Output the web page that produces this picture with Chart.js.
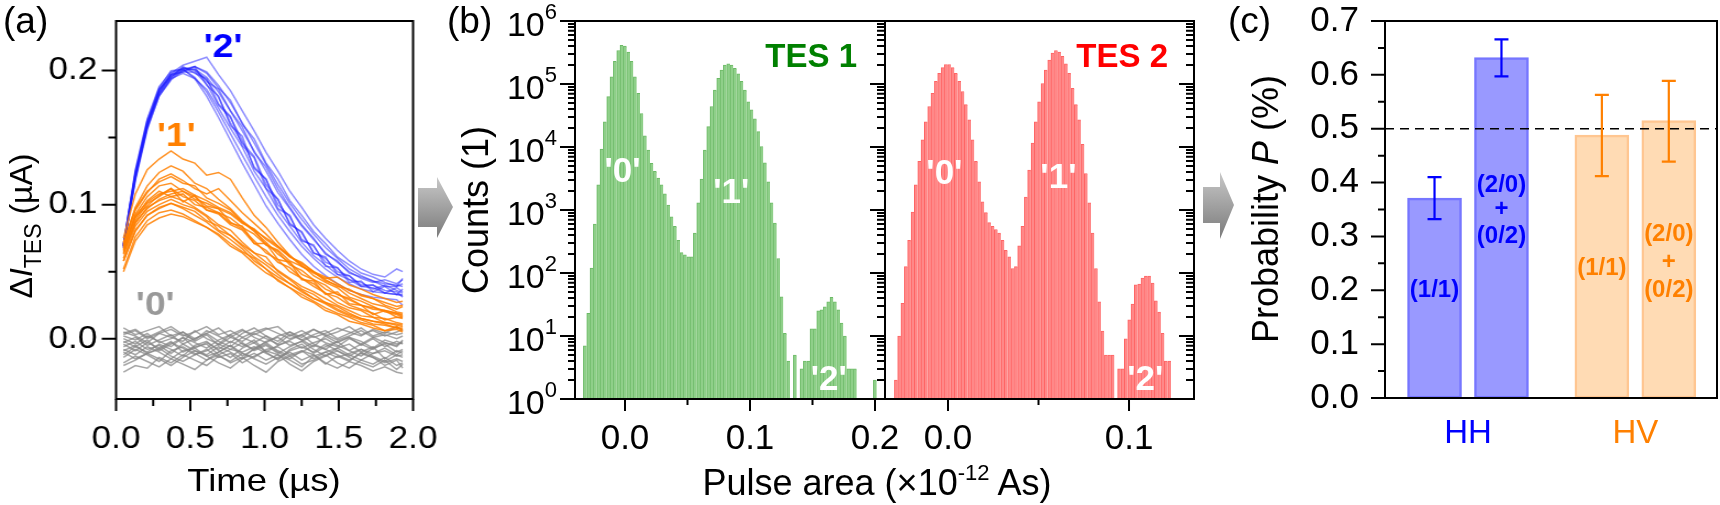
<!DOCTYPE html>
<html><head><meta charset="utf-8">
<script src="https://cdn.jsdelivr.net/npm/chart.js@4.4.1/dist/chart.umd.min.js"></script>
<style>
html,body{margin:0;padding:0;background:#fff}
body{position:relative;width:1720px;height:505px;overflow:hidden;font-family:"Liberation Sans",Arial,Helvetica,sans-serif}
canvas{position:absolute}
.t{position:absolute;line-height:1;white-space:nowrap;color:#000}
.rot{transform:translate(-50%,-50%) rotate(-90deg)}
</style></head><body>
<canvas id="ca" width="400" height="505" style="left:0;top:0;transform:scaleX(1.1);transform-origin:0 0"></canvas>
<canvas id="cb1" width="480" height="505" style="left:440px;top:0"></canvas>
<canvas id="cb2" width="360" height="505" style="left:860px;top:0"></canvas>
<canvas id="cc" width="430" height="525" style="left:1290px;top:-20px"></canvas>
<svg width="1720" height="505" style="position:absolute;left:0;top:0;pointer-events:none">
<defs><linearGradient id="ag" x1="0" y1="0" x2="0" y2="1"><stop offset="0" stop-color="#c8c8c8"/><stop offset="1" stop-color="#7a7a7a"/></linearGradient></defs>
<polygon points="418,188 437,188 437,177 453,207 437,238 437,227 418,227" fill="url(#ag)"/>
<polygon points="1203,187 1220,187 1220,172 1234,205 1220,239 1220,223 1203,223" fill="url(#ag)"/>
</svg>
<div class="t" style="left:3px;top:2px;font-size:37px">(a)</div>
<div class="t" style="left:447px;top:2px;font-size:37px">(b)</div>
<div class="t" style="left:1228px;top:2px;font-size:37px">(c)</div>
<div class="t" style="left:264px;top:464px;font-size:32px;transform:translateX(-50%) scaleX(1.14)">Time (µs)</div>
<div class="t" style="left:877px;top:465px;font-size:36px;transform:translateX(-50%)">Pulse area (×10<span style="font-size:22px;position:relative;top:-15px">-12</span> As)</div>
<div class="t rot" style="left:476px;top:210px;font-size:36px">Counts (1)</div>
<div class="t rot" style="left:1266px;top:209px;font-size:36px">Probability <i>P</i> (%)</div>
<div class="t rot" style="left:21px;top:226px;font-size:32px">Δ<i>I</i><span style="font-size:23px;position:relative;top:9px">TES</span> (µA)</div>
<div class="t" style="left:857px;top:39px;font-size:33px;font-weight:bold;color:#008000;transform:translateX(-100%)">TES 1</div>
<div class="t" style="left:1168px;top:39px;font-size:33px;font-weight:bold;color:#ff0000;transform:translateX(-100%)">TES 2</div>
<script>
// ================= DATA =================
// (a) TES current traces, time in µs, ΔI in µA
const aTime = [0.05,0.13,0.21,0.29,0.37,0.45,0.53,0.61,0.69,0.77,0.85,0.93,1.01,1.09,1.17,1.25,1.33,1.41,1.49,1.57,1.65,1.73,1.81,1.89,1.93];
const aBlue = [
[0.070,0.126,0.164,0.188,0.199,0.201,0.195,0.184,0.169,0.153,0.137,0.121,0.106,0.092,0.080,0.069,0.060,0.052,0.046,0.041,0.037,0.035,0.034,0.033,0.032],
[0.068,0.118,0.156,0.181,0.194,0.201,0.203,0.199,0.189,0.176,0.161,0.146,0.130,0.115,0.101,0.089,0.078,0.068,0.060,0.052,0.047,0.043,0.041,0.040,0.039],
[0.071,0.124,0.161,0.186,0.195,0.203,0.198,0.194,0.175,0.166,0.144,0.135,0.112,0.104,0.085,0.080,0.064,0.061,0.048,0.047,0.039,0.040,0.034,0.038,0.035],
[0.069,0.121,0.158,0.183,0.197,0.199,0.203,0.189,0.181,0.159,0.151,0.127,0.119,0.097,0.092,0.073,0.070,0.054,0.053,0.042,0.043,0.035,0.039,0.033,0.037],
[0.068,0.120,0.159,0.185,0.198,0.204,0.207,0.210,0.197,0.185,0.170,0.155,0.139,0.125,0.110,0.098,0.085,0.075,0.066,0.058,0.052,0.048,0.046,0.052,0.050],
[0.070,0.123,0.162,0.182,0.194,0.198,0.194,0.181,0.165,0.148,0.131,0.115,0.099,0.086,0.074,0.063,0.054,0.047,0.041,0.036,0.033,0.031,0.030,0.029,0.025],
[0.069,0.121,0.160,0.186,0.197,0.202,0.201,0.195,0.184,0.170,0.155,0.140,0.125,0.109,0.097,0.084,0.074,0.064,0.057,0.050,0.045,0.042,0.044,0.041,0.044],
[0.070,0.125,0.163,0.187,0.200,0.201,0.194,0.186,0.172,0.157,0.143,0.125,0.112,0.096,0.084,0.072,0.062,0.055,0.048,0.044,0.039,0.038,0.034,0.033,0.033],
[0.068,0.119,0.157,0.181,0.193,0.200,0.203,0.198,0.187,0.178,0.160,0.149,0.131,0.119,0.103,0.092,0.080,0.071,0.061,0.055,0.049,0.046,0.042,0.039,0.041],
[0.069,0.122,0.161,0.184,0.196,0.199,0.199,0.190,0.174,0.165,0.148,0.128,0.119,0.100,0.091,0.074,0.069,0.057,0.053,0.044,0.042,0.037,0.040,0.036,0.034],
[0.070,0.123,0.159,0.183,0.195,0.202,0.200,0.193,0.180,0.161,0.146,0.136,0.115,0.104,0.086,0.079,0.064,0.060,0.050,0.047,0.040,0.040,0.036,0.035,0.031],
[0.069,0.120,0.158,0.185,0.197,0.200,0.201,0.192,0.186,0.170,0.158,0.139,0.128,0.112,0.098,0.085,0.075,0.063,0.058,0.049,0.046,0.043,0.039,0.039,0.045]
];
const aOrange = [
[0.075,0.108,0.126,0.134,0.140,0.134,0.131,0.122,0.124,0.119,0.105,0.092,0.083,0.072,0.062,0.054,0.050,0.043,0.040,0.034,0.030,0.026,0.024,0.020,0.019],
[0.070,0.098,0.114,0.124,0.129,0.125,0.116,0.112,0.104,0.097,0.088,0.081,0.070,0.065,0.055,0.051,0.044,0.040,0.033,0.030,0.025,0.022,0.021,0.019,0.018],
[0.065,0.088,0.101,0.106,0.112,0.106,0.103,0.096,0.093,0.085,0.081,0.071,0.066,0.057,0.053,0.045,0.041,0.034,0.031,0.025,0.022,0.019,0.014,0.016,0.015],
[0.058,0.081,0.092,0.098,0.101,0.097,0.092,0.087,0.080,0.074,0.067,0.058,0.052,0.043,0.038,0.031,0.027,0.021,0.018,0.013,0.011,0.008,0.006,0.007,0.005],
[0.068,0.090,0.103,0.110,0.106,0.108,0.100,0.098,0.094,0.090,0.083,0.078,0.070,0.066,0.058,0.054,0.049,0.045,0.046,0.040,0.037,0.033,0.030,0.027,0.028],
[0.052,0.076,0.088,0.094,0.096,0.093,0.088,0.083,0.077,0.069,0.064,0.056,0.049,0.044,0.038,0.033,0.028,0.023,0.019,0.016,0.012,0.010,0.006,0.009,0.006],
[0.072,0.097,0.110,0.117,0.121,0.116,0.114,0.105,0.101,0.096,0.087,0.080,0.072,0.063,0.057,0.048,0.044,0.037,0.033,0.029,0.025,0.023,0.021,0.019,0.017],
[0.063,0.086,0.098,0.103,0.106,0.103,0.098,0.092,0.085,0.081,0.072,0.064,0.061,0.050,0.044,0.037,0.033,0.027,0.024,0.019,0.015,0.013,0.012,0.010,0.009],
[0.050,0.073,0.085,0.090,0.093,0.091,0.087,0.083,0.078,0.071,0.065,0.060,0.052,0.046,0.041,0.035,0.030,0.027,0.022,0.018,0.015,0.013,0.011,0.008,0.008],
[0.067,0.091,0.099,0.107,0.112,0.102,0.107,0.096,0.094,0.086,0.084,0.071,0.071,0.059,0.057,0.044,0.043,0.033,0.035,0.026,0.025,0.018,0.021,0.016,0.016],
[0.064,0.087,0.097,0.104,0.108,0.110,0.104,0.101,0.097,0.093,0.086,0.082,0.074,0.068,0.061,0.057,0.050,0.044,0.039,0.037,0.032,0.030,0.025,0.022,0.024],
[0.069,0.093,0.106,0.114,0.116,0.110,0.106,0.099,0.097,0.087,0.082,0.073,0.064,0.059,0.050,0.045,0.039,0.034,0.027,0.023,0.021,0.016,0.015,0.012,0.011],
[0.058,0.080,0.092,0.097,0.101,0.098,0.095,0.088,0.084,0.077,0.070,0.064,0.057,0.051,0.045,0.039,0.035,0.030,0.025,0.021,0.017,0.016,0.012,0.011,0.010],
[0.066,0.092,0.102,0.108,0.110,0.112,0.107,0.103,0.098,0.094,0.087,0.081,0.075,0.069,0.061,0.056,0.050,0.046,0.041,0.036,0.033,0.030,0.027,0.024,0.025],
[0.071,0.096,0.109,0.119,0.123,0.118,0.112,0.108,0.112,0.103,0.094,0.086,0.078,0.069,0.062,0.055,0.047,0.042,0.038,0.031,0.028,0.024,0.020,0.018,0.016],
[0.060,0.084,0.095,0.100,0.104,0.100,0.097,0.091,0.081,0.077,0.069,0.061,0.055,0.048,0.041,0.036,0.030,0.026,0.021,0.017,0.014,0.011,0.010,0.008,0.007]
];
const aGray = [
[0.005,0.002,-0.003,0.004,0.001,-0.002,0.006,0.000,-0.004,0.003,0.007,0.001,-0.003,0.002,0.005,-0.001,0.003,0.006,0.000,0.004,0.008,0.002,0.005,0.003,0.004],
[-0.008,-0.012,-0.006,-0.010,-0.015,-0.009,-0.007,-0.013,-0.010,-0.005,-0.011,-0.014,-0.008,-0.006,-0.012,-0.009,-0.015,-0.010,-0.007,-0.012,-0.016,-0.011,-0.009,-0.013,-0.012],
[-0.025,-0.020,-0.022,-0.014,-0.018,-0.012,-0.016,-0.020,-0.013,-0.017,-0.011,-0.015,-0.019,-0.014,-0.010,-0.016,-0.012,-0.018,-0.022,-0.017,-0.020,-0.024,-0.021,-0.025,-0.026],
[0.000,-0.004,0.002,-0.002,-0.006,0.001,-0.003,-0.007,-0.001,0.003,-0.004,-0.008,-0.002,0.001,-0.005,-0.002,0.002,-0.003,-0.006,0.000,-0.004,0.001,-0.003,-0.005,-0.002],
[-0.012,-0.006,-0.010,-0.004,-0.008,-0.013,-0.005,-0.002,-0.009,-0.014,-0.007,-0.003,-0.010,-0.016,-0.008,-0.004,-0.011,-0.006,-0.002,-0.009,-0.013,-0.007,-0.004,-0.010,-0.008],
[0.008,0.003,0.006,0.009,0.002,0.005,0.000,0.004,0.008,0.001,0.006,0.003,0.007,0.009,0.002,0.006,0.001,0.004,0.008,0.005,0.002,0.007,0.004,0.009,0.006],
[-0.004,-0.009,-0.003,-0.007,-0.002,-0.010,-0.006,-0.004,-0.012,-0.008,-0.003,-0.009,-0.005,-0.011,-0.006,-0.002,-0.008,-0.013,-0.007,-0.004,-0.010,-0.006,-0.015,-0.009,-0.011],
[-0.018,-0.013,-0.017,-0.021,-0.015,-0.019,-0.023,-0.016,-0.012,-0.018,-0.014,-0.020,-0.025,-0.017,-0.013,-0.019,-0.016,-0.012,-0.018,-0.022,-0.016,-0.019,-0.014,-0.020,-0.018],
[0.002,-0.001,0.004,-0.003,0.000,0.005,-0.002,0.003,-0.005,0.001,-0.002,0.004,0.000,-0.004,0.003,-0.001,-0.006,0.002,-0.003,0.001,-0.002,-0.007,-0.001,-0.004,-0.003],
[-0.006,-0.002,-0.008,-0.005,-0.011,-0.004,-0.009,-0.012,-0.006,-0.010,-0.015,-0.007,-0.003,-0.009,-0.013,-0.010,-0.005,-0.008,-0.012,-0.016,-0.011,-0.014,-0.018,-0.015,-0.017],
[-0.010,-0.015,-0.011,-0.007,-0.013,-0.017,-0.012,-0.008,-0.014,-0.011,-0.018,-0.013,-0.009,-0.012,-0.016,-0.021,-0.013,-0.010,-0.014,-0.011,-0.008,-0.013,-0.017,-0.012,-0.014],
[0.004,0.007,0.001,0.005,0.009,0.003,-0.001,0.006,0.002,-0.003,0.004,0.008,0.002,-0.002,0.005,0.001,0.007,0.003,-0.001,0.002,0.006,0.001,0.003,0.000,0.002],
[-0.002,-0.006,-0.001,-0.009,-0.004,0.001,-0.007,-0.003,-0.008,-0.002,-0.006,-0.001,-0.010,-0.005,-0.002,-0.007,-0.003,0.000,-0.005,-0.009,-0.004,-0.008,-0.003,-0.006,-0.001],
[-0.014,-0.008,-0.012,-0.017,-0.009,-0.006,-0.011,-0.016,-0.010,-0.005,-0.013,-0.008,-0.004,-0.010,-0.015,-0.009,-0.012,-0.019,-0.013,-0.017,-0.010,-0.014,-0.020,-0.016,-0.022],
[-0.003,0.001,-0.005,-0.001,0.003,-0.004,0.000,0.004,-0.002,-0.006,0.001,-0.003,0.002,-0.005,-0.001,0.003,-0.004,-0.008,-0.002,0.001,-0.005,0.000,-0.006,-0.002,-0.004],
[-0.009,-0.005,-0.011,-0.008,-0.003,-0.007,-0.012,-0.009,-0.004,-0.008,-0.010,-0.006,-0.011,-0.015,-0.009,-0.006,-0.010,-0.004,-0.009,-0.013,-0.008,-0.011,-0.007,-0.012,-0.009],
[0.003,0.006,0.000,0.004,0.007,0.002,0.005,0.009,0.003,0.006,0.001,0.005,0.008,0.004,0.000,0.003,0.007,0.002,0.005,0.009,0.003,0.006,0.002,0.005,0.007],
[-0.020,-0.016,-0.011,-0.015,-0.020,-0.014,-0.009,-0.013,-0.018,-0.022,-0.015,-0.011,-0.016,-0.012,-0.019,-0.024,-0.017,-0.013,-0.009,-0.014,-0.018,-0.021,-0.016,-0.023,-0.019]
];
const aXTicks = [0, 0.5, 1.0, 1.5, 2.0];
const aXMinor = [0.25, 0.75, 1.25, 1.75];
const aYTicks = [0, 0.1, 0.2];
const aYMinor = [0.05, 0.15];
const aLabels = ["'2'", "'1'", "'0'"];

// (b) pulse-area histograms (bin centre in 1e-12 As, counts)
const tes1Area = [-0.0320,-0.0293,-0.0267,-0.0240,-0.0213,-0.0187,-0.0160,-0.0133,-0.0107,-0.0080,
-0.0053,-0.0027,0.0000,0.0027,0.0053,0.0080,0.0107,0.0133,0.0160,0.0187,
0.0213,0.0240,0.0267,0.0293,0.0320,0.0347,0.0373,0.0400,0.0427,0.0453,
0.0480,0.0507,0.0533,0.0560,0.0587,0.0613,0.0640,0.0667,0.0693,0.0720,
0.0747,0.0773,0.0800,0.0827,0.0853,0.0880,0.0907,0.0933,0.0960,0.0987,
0.1013,0.1040,0.1067,0.1093,0.1120,0.1147,0.1173,0.1200,0.1227,0.1253,
0.1280,0.1307,0.1360,
0.1413,0.1440,0.1467,0.1493,0.1520,0.1547,0.1573,0.1600,0.1627,0.1653,0.1680,0.1707,0.1733,0.1760,0.1787,0.1813,0.1840,
0.2000];
const tes1Counts = [7,23,120,600,2500,9300,25000,63000,130000,230000,
340000,410000,400000,320000,230000,130000,71000,34000,15000,8900,
5500,4100,3200,2500,1800,1200,780,550,330,210,
195,180,180,430,1300,3100,8900,21000,44000,80000,
123000,166000,200000,209000,200000,178000,145000,110000,80000,52000,
39000,28000,17500,10200,5600,2800,1300,620,170,42,
11,4,5,
3,4,4,13,13,25,26,29,35,41,35,26,16,10,3,3,3,
2];
const tes2Area = [-0.0287,-0.0269,-0.0251,-0.0232,-0.0214,-0.0195,-0.0177,-0.0158,-0.0140,-0.0122,
-0.0103,-0.0085,-0.0066,-0.0048,-0.0029,-0.0011,0.0007,0.0026,0.0044,0.0063,
0.0081,0.0099,0.0118,0.0136,0.0155,0.0173,0.0191,0.0210,0.0228,0.0247,
0.0265,0.0283,0.0302,0.0320,0.0339,0.0357,0.0376,0.0394,0.0412,0.0431,
0.0449,0.0468,0.0486,0.0504,0.0523,0.0541,0.0560,0.0578,0.0597,0.0615,
0.0633,0.0652,0.0670,0.0689,0.0707,0.0725,0.0744,0.0762,0.0781,0.0799,
0.0818,0.0836,0.0854,0.0873,0.0891,0.0910,
0.0946,0.0965,0.0983,0.1002,0.1020,0.1038,0.1057,0.1075,0.1094,0.1112,0.1131,0.1149,0.1167,0.1186,0.1204,0.1223];
const tes2Counts = [2,10,33,126,330,930,2500,5900,13000,25000,
44000,71000,110000,148000,182000,204000,204000,182000,148000,110000,
76000,47000,27000,13000,5900,2800,1350,910,630,550,
490,430,330,230,180,118,126,270,550,1600,
4300,11500,25000,52000,102000,166000,240000,310000,340000,320000,
275000,209000,148000,85000,47000,27000,11000,3800,1300,430,
118,35,12,5,5,5,
3,3,9,18,32,65,67,83,89,89,69,36,24,11,4,4];
const b1XTicks = [0, 0.1, 0.2];
const b1XMinor = [0.05, 0.15];
const b2XTicks = [0, 0.1];
const b2XMinor = [0.05];
const bYExp = [0, 1, 2, 3, 4, 5, 6];
const bPeakLabels = ["'0'", "'1'", "'2'"];

// (c) coincidence probabilities (%)
const cGroups = ['HH', 'HV'];
const cBarLabels = [['(1/1)'], ['(2/0)', '+', '(0/2)'], ['(1/1)'], ['(2/0)', '+', '(0/2)']];
const cValues = [0.371, 0.632, 0.488, 0.515];
const cErrLow = [0.332, 0.597, 0.412, 0.439];
const cErrHigh = [0.410, 0.666, 0.563, 0.589];
const cYTicks = [0, 0.1, 0.2, 0.3, 0.4, 0.5, 0.6, 0.7];
const cYMinor = [0.05, 0.15, 0.25, 0.35, 0.45, 0.55, 0.65];
const cReference = 0.5;

// ================= LAYOUT / STYLE =================
const FF = '"Liberation Sans", Arial, sans-serif';
Chart.defaults.font.family = FF;
Chart.defaults.color = '#000';
Chart.defaults.animation = false;

const cBarPos = [0, 1, 2.5, 3.5];
const cGroupPos = [0.5, 3.0];
const cGroupColors = ['#0000ff', '#ff8000'];
const cFill = ['rgb(153,153,255)', 'rgb(153,153,255)', 'rgb(255,219,180)', 'rgb(255,219,180)'];
const cEdge = ['rgb(118,118,255)', 'rgb(118,118,255)', 'rgb(255,198,145)', 'rgb(255,198,145)'];
const cInk = ['#0000ff', '#0000ff', '#ff8000', '#ff8000'];
const cLabelY = [[0.2], [0.395, 0.35, 0.30], [0.241], [0.303, 0.252, 0.2]];

function fixBox(w, h) {
  return s => {
    if (w != null) s.width = w;
    if (h != null) s.height = h;
    s.paddingLeft = 0; s.paddingRight = 0; s.paddingTop = 0; s.paddingBottom = 0;
  };
}
function setTicks(arr) { return s => { s.ticks = arr.map(v => ({ value: v })); }; }
function frame(ctx, a) {
  ctx.save(); ctx.strokeStyle = '#000'; ctx.lineWidth = 2;
  ctx.strokeRect(a.left, a.top, a.right - a.left, a.bottom - a.top); ctx.restore();
}
function tickMarks(ctx, scale, vals, len, side) {
  const a = scale.chart.chartArea;
  ctx.save(); ctx.strokeStyle = '#000'; ctx.lineWidth = 2; ctx.beginPath();
  vals.forEach(v => {
    const p = scale.getPixelForValue(v);
    if (side === 'left') { ctx.moveTo(a.left, p); ctx.lineTo(a.left - len, p); }
    else if (side === 'right') { ctx.moveTo(a.right, p); ctx.lineTo(a.right + len, p); }
    else { ctx.moveTo(p, a.bottom); ctx.lineTo(p, a.bottom + len); }
  });
  ctx.stroke(); ctx.restore();
}
function text(ctx, s, x, y, font, color) {
  ctx.save(); ctx.font = font; ctx.fillStyle = color; ctx.textAlign = 'center'; ctx.textBaseline = 'middle';
  ctx.fillText(s, x, y); ctx.restore();
}
const noUi = { legend: { display: false }, tooltip: { enabled: false } };
const hiddenGrid = { display: false, drawTicks: false };

// ================= (a) =================
function mkLine(tr, color) {
  return { data: aTime.map((t, i) => ({ x: t, y: tr[i] })), borderColor: color, borderWidth: 1.5,
    pointRadius: 0, tension: 0, fill: false };
}
const aSets = [];
aOrange.forEach(tr => aSets.push(mkLine(tr, 'rgba(255,128,0,0.85)')));
aBlue.forEach(tr => aSets.push(mkLine(tr, 'rgba(30,30,255,0.5)')));
aGray.forEach(tr => aSets.push(mkLine(tr, 'rgba(135,135,135,0.75)')));
const aLabelPos = [[0.72, 0.217, '#0000ff'], [0.405, 0.151, '#ff8000'], [0.264, 0.025, '#999999']];

new Chart(document.getElementById('ca'), {
  type: 'line',
  data: { datasets: aSets },
  options: {
    responsive: false, animation: false, events: [],
    layout: { padding: { left: 0, top: 21, right: 24.5, bottom: 0 } },
    plugins: noUi,
    scales: {
      x: { type: 'linear', min: 0, max: 2, afterFit: fixBox(null, 106), afterBuildTicks: setTicks(aXTicks),
        grid: hiddenGrid, border: { display: false },
        ticks: { font: { size: 32 }, padding: 21, maxRotation: 0, autoSkip: false, callback: v => Number(v).toFixed(1) } },
      y: { type: 'linear', min: -0.045, max: 0.237, afterFit: fixBox(105.5, null), afterBuildTicks: setTicks(aYTicks),
        grid: hiddenGrid, border: { display: false },
        ticks: { font: { size: 32 }, padding: 17, callback: v => Number(v).toFixed(1) } }
    }
  },
  plugins: [{ id: 'decoA', afterDraw(chart) {
    const ctx = chart.ctx, xs = chart.scales.x, ys = chart.scales.y;
    frame(ctx, chart.chartArea);
    tickMarks(ctx, ys, aYTicks, 13, 'left'); tickMarks(ctx, ys, aYMinor, 7, 'left');
    tickMarks(ctx, xs, aXTicks, 12, 'bottom'); tickMarks(ctx, xs, aXMinor, 7, 'bottom');
    aLabels.forEach((s, i) => {
      const p = aLabelPos[i];
      text(ctx, s, xs.getPixelForValue(p[0]), ys.getPixelForValue(p[1]), 'bold 34px ' + FF, p[2]);
    });
  } }]
});

// ================= (b) =================
const logMinor = [];
for (let k = 0; k < 6; k++) for (let m = 2; m <= 9; m++) logMinor.push(m * Math.pow(10, k));
const logMajor = bYExp.map(k => Math.pow(10, k));

function histChart(id, areas, counts, fill, edge, xmin, xmax, yWidth, padR, xt, deco) {
  return new Chart(document.getElementById(id), {
    type: 'bar',
    data: { datasets: [{ data: areas.map((x, i) => ({ x: x, y: counts[i] })), backgroundColor: fill,
      borderColor: edge, borderWidth: { left: 1, top: 1, right: 0, bottom: 0 }, borderSkipped: false,
      barPercentage: 1, categoryPercentage: 1, grouped: false }] },
    options: {
      responsive: false, animation: false, events: [],
      layout: { padding: { left: 0, top: 21, right: padR, bottom: 0 } },
      plugins: noUi,
      scales: {
        x: { type: 'linear', min: xmin, max: xmax, offset: false, afterFit: fixBox(null, 106), afterBuildTicks: setTicks(xt),
          grid: { display: false, drawTicks: false, offset: false }, border: { display: false },
          ticks: { font: { size: 35 }, padding: 19.5, maxRotation: 0, autoSkip: false, callback: v => Number(v).toFixed(1) } },
        y: { type: 'logarithmic', min: 1, max: 1e6, afterFit: fixBox(yWidth, null), afterBuildTicks: setTicks(logMajor),
          grid: hiddenGrid, border: { display: false }, ticks: { display: false } }
      }
    },
    plugins: [{ id: 'deco' + id, afterDraw: deco }]
  });
}
const b1LabelPos = [[-0.002, 3.6], [0.085, 3.27], [0.163, 0.3]];
const b2LabelPos = [[-0.002, 3.56], [0.061, 3.5], [0.109, 0.3]];

histChart('cb1', tes1Area, tes1Counts, 'rgb(143,207,137)', 'rgb(108,186,102)', -0.04, 0.208, 135, 35, b1XTicks, chart => {
  const ctx = chart.ctx, xs = chart.scales.x, ys = chart.scales.y, a = chart.chartArea;
  frame(ctx, a);
  tickMarks(ctx, ys, logMajor, 15, 'left'); tickMarks(ctx, ys, logMinor, 7, 'left');
  tickMarks(ctx, ys, logMajor, -15, 'right'); tickMarks(ctx, ys, logMinor, -8, 'right');
  tickMarks(ctx, xs, b1XTicks, 12, 'bottom'); tickMarks(ctx, xs, b1XMinor, 6, 'bottom');
  ctx.save(); ctx.fillStyle = '#000'; ctx.textAlign = 'right'; ctx.textBaseline = 'alphabetic';
  bYExp.forEach(k => {
    const y = ys.getPixelForValue(Math.pow(10, k));
    ctx.font = '22px ' + FF;
    const ew = ctx.measureText(String(k)).width;
    ctx.fillText(String(k), a.left - 18, y - 2);
    ctx.font = '34px ' + FF;
    ctx.fillText('10', a.left - 18 - ew, y + 15);
  });
  ctx.restore();
  bPeakLabels.forEach((s, i) => text(ctx, s, xs.getPixelForValue(b1LabelPos[i][0]), ys.getPixelForValue(Math.pow(10, b1LabelPos[i][1])), 'bold 35px ' + FF, '#ffffff'));
});
histChart('cb2', tes2Area, tes2Counts, 'rgb(255,136,136)', 'rgb(255,100,100)', -0.0348, 0.1359, 25, 26, b2XTicks, chart => {
  const ctx = chart.ctx, xs = chart.scales.x, ys = chart.scales.y;
  frame(ctx, chart.chartArea);
  tickMarks(ctx, ys, logMajor, -15, 'right'); tickMarks(ctx, ys, logMinor, -8, 'right');
  tickMarks(ctx, xs, b2XTicks, 12, 'bottom'); tickMarks(ctx, xs, b2XMinor, 6, 'bottom');
  bPeakLabels.forEach((s, i) => text(ctx, s, xs.getPixelForValue(b2LabelPos[i][0]), ys.getPixelForValue(Math.pow(10, b2LabelPos[i][1])), 'bold 35px ' + FF, '#ffffff'));
});

// ================= (c) =================
new Chart(document.getElementById('cc'), {
  type: 'bar',
  data: { datasets: [{ data: cBarPos.map((x, i) => ({ x: x, y: cValues[i] })), backgroundColor: cFill, borderColor: cEdge,
    borderWidth: 2.5, borderSkipped: false, barThickness: 54, grouped: false }] },
  options: {
    responsive: false, animation: false, events: [],
    layout: { padding: { left: 0, top: 41, right: 3, bottom: 0 } },
    plugins: noUi,
    scales: {
      x: { type: 'linear', min: -0.74, max: 4.22, offset: false, afterFit: fixBox(null, 107), afterBuildTicks: setTicks(cGroupPos),
        grid: { display: false, drawTicks: false, offset: false }, border: { display: false },
        ticks: { font: { size: 33 }, padding: 15.7, maxRotation: 0, autoSkip: false,
          callback: (v, i) => cGroups[i], color: c => cGroupColors[c.index] } },
      y: { type: 'linear', min: 0, max: 0.7, afterFit: fixBox(95, null), afterBuildTicks: setTicks(cYTicks),
        grid: hiddenGrid, border: { display: false },
        ticks: { font: { size: 35 }, padding: 26, callback: v => Number(v).toFixed(1) } }
    }
  },
  plugins: [{ id: 'decoC', afterDatasetsDraw(chart) {
    const ctx = chart.ctx, xs = chart.scales.x, ys = chart.scales.y, a = chart.chartArea;
    ctx.save(); ctx.strokeStyle = '#000'; ctx.lineWidth = 1.6; ctx.setLineDash([9, 6]);
    const yr = ys.getPixelForValue(cReference);
    ctx.beginPath(); ctx.moveTo(a.left, yr); ctx.lineTo(a.right, yr); ctx.stroke(); ctx.restore();
    cBarPos.forEach((p, i) => {
      const x = xs.getPixelForValue(p), y1 = ys.getPixelForValue(cErrLow[i]), y2 = ys.getPixelForValue(cErrHigh[i]);
      ctx.save(); ctx.strokeStyle = cInk[i]; ctx.lineWidth = 2.2; ctx.beginPath();
      ctx.moveTo(x, y1); ctx.lineTo(x, y2);
      ctx.moveTo(x - 7, y1); ctx.lineTo(x + 7, y1);
      ctx.moveTo(x - 7, y2); ctx.lineTo(x + 7, y2);
      ctx.stroke(); ctx.restore();
      cBarLabels[i].forEach((s, j) => text(ctx, s, x, ys.getPixelForValue(cLabelY[i][j]), 'bold 24px ' + FF, cInk[i]));
    });
  }, afterDraw(chart) {
    const ctx = chart.ctx, ys = chart.scales.y;
    frame(ctx, chart.chartArea);
    tickMarks(ctx, ys, cYTicks, 14, 'left'); tickMarks(ctx, ys, cYMinor, 7, 'left');
  } }]
});
</script>
</body></html>
